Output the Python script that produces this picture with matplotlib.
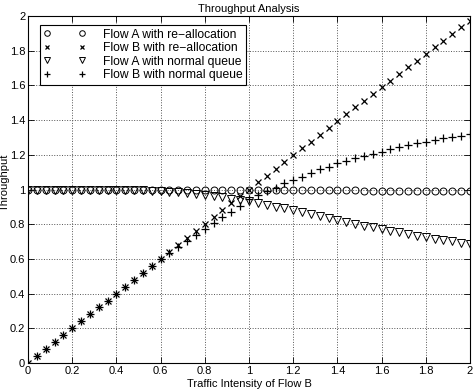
import numpy as np
import matplotlib
matplotlib.use("Agg")
import matplotlib.pyplot as plt

# Traffic intensity of flow B (x axis), 0 to 2 in steps of 0.04
intensity = np.round(np.arange(0, 2.0001, 0.04), 2)

# Flow A with re-allocation: stays at ~1
flow_a_realloc = [1.0] * 25 + [
    1.0, 1.0, 0.999, 0.999, 0.998, 0.998, 0.997, 0.997, 0.996, 0.996,
    0.996, 0.995, 0.995, 0.994, 0.994, 0.993, 0.993, 0.993, 0.992, 0.992,
    0.992, 0.991, 0.991, 0.991, 0.990, 0.990]

# Flow B with re-allocation
flow_b_realloc = [
    0.0, 0.04, 0.08, 0.12, 0.16, 0.20, 0.24, 0.28, 0.32, 0.36,
    0.40, 0.44, 0.48, 0.52, 0.56, 0.60, 0.64, 0.68, 0.72, 0.76,
    0.80, 0.84, 0.88, 0.925, 0.963, 1.0, 1.041, 1.078, 1.118, 1.157,
    1.199, 1.237, 1.276, 1.314, 1.353, 1.393, 1.433, 1.474, 1.512, 1.550,
    1.589, 1.627, 1.666, 1.704, 1.742, 1.781, 1.821, 1.857, 1.896, 1.937,
    1.973]

# Flow A with normal queue
flow_a_normal = [
    1.0, 1.0, 1.0, 1.0, 1.0, 0.999, 0.999, 0.999, 0.999, 0.998,
    0.998, 0.997, 0.996, 0.995, 0.994, 0.993, 0.988, 0.983, 0.979, 0.973,
    0.967, 0.960, 0.954, 0.947, 0.940, 0.932, 0.921, 0.911, 0.901, 0.892,
    0.882, 0.870, 0.859, 0.847, 0.837, 0.826, 0.815, 0.803, 0.791, 0.782,
    0.772, 0.763, 0.753, 0.744, 0.734, 0.724, 0.717, 0.709, 0.701, 0.693,
    0.688]

# Flow B with normal queue
flow_b_normal = [
    0.0, 0.04, 0.08, 0.12, 0.16, 0.20, 0.24, 0.28, 0.32, 0.36,
    0.40, 0.44, 0.48, 0.52, 0.56, 0.60, 0.634, 0.670, 0.705, 0.738,
    0.772, 0.809, 0.843, 0.872, 0.903, 0.943, 0.968, 0.991, 1.010, 1.036,
    1.055, 1.074, 1.097, 1.118, 1.131, 1.151, 1.166, 1.180, 1.193, 1.205,
    1.218, 1.231, 1.243, 1.256, 1.266, 1.276, 1.285, 1.295, 1.304, 1.310,
    1.318]

tick_labels = ["0", "0.2", "0.4", "0.6", "0.8", "1", "1.2", "1.4", "1.6", "1.8", "2"]

plt.rcParams['font.family'] = ['Liberation Sans', 'DejaVu Sans']

fig = plt.figure(figsize=(4.74, 3.89), dpi=100)
ax = fig.add_axes([28 / 474, 1 - 363 / 389, 442 / 474, 347 / 389])

# Plot each series as hollow black markers only
ax.plot(intensity, flow_a_realloc, 'o', mfc='none', mec='black', ms=5, mew=0.7,
        label="Flow A with re\u2212allocation")
ax.plot(intensity, flow_b_realloc, 'x', color='black', ms=4, mew=0.9,
        label="Flow B with re\u2212allocation")
ax.plot(intensity, flow_a_normal, 'v', mfc='none', mec='black', ms=5.5, mew=0.7,
        label="Flow A with normal queue")
ax.plot(intensity, flow_b_normal, '+', color='black', ms=5.5, mew=0.9,
        label="Flow B with normal queue")

ax.set_xlim(0, 2)
ax.set_ylim(0, 2)
ax.set_xticks(np.arange(0, 2.01, 0.2))
ax.set_yticks(np.arange(0, 2.01, 0.2))
ax.set_xticklabels(tick_labels)
ax.set_yticklabels(tick_labels)
ax.tick_params(direction='in', top=True, right=True, length=4, width=0.6,
               labelsize=8, pad=2)
ax.grid(True, linestyle=':', color='#555555', linewidth=0.7)
for sp in ax.spines.values():
    sp.set_linewidth(0.8)

ax.set_title("Throughput Analysis", fontsize=8, pad=3)
ax.set_xlabel("Traffic Intensity of Flow B", fontsize=8, va='center')
ax.xaxis.set_label_coords(0.5, -(384 - 363) / 347)
ax.set_ylabel("Throughput", fontsize=8, va='center')
ax.yaxis.set_label_coords(-(28 - 4.5) / 442, 0.52)

# Legend with two small markers per entry, MATLAB style
leg = ax.legend(loc='upper left', bbox_to_anchor=(0.027, 0.974), borderaxespad=0,
                numpoints=2, markerscale=0.8, handlelength=3.5, handletextpad=1.4,
                labelspacing=0.12, borderpad=0.3, fancybox=False, framealpha=1,
                edgecolor='black', fontsize=8.7)
leg.get_frame().set_linewidth(0.8)

fig.savefig("out.png", dpi=100)
